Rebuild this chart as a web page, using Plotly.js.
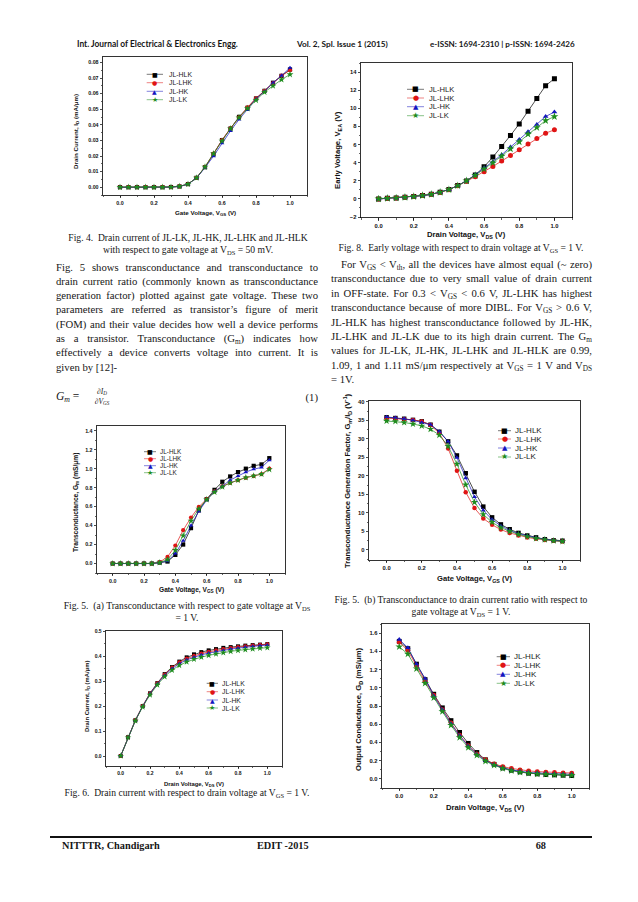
<!DOCTYPE html>
<html><head><meta charset="utf-8">
<script src="https://cdn.plot.ly/plotly-3.0.1.min.js"></script>
<style>
html,body{margin:0;padding:0;background:#fff;}
#page{position:relative;width:638px;height:902px;overflow:hidden;background:#fff;}
#plot{position:absolute;left:0;top:0;width:638px;height:902px;}
.t{position:absolute;white-space:nowrap;font-family:"Liberation Serif","Times New Roman",serif;color:#161616;}
.t sub{vertical-align:-0.28em;line-height:0;}
.t sup{vertical-align:0.4em;line-height:0;}
#rule{position:absolute;left:50px;top:836px;width:542px;height:2px;background:#111;}
</style></head><body>
<div id="page"><div id="plot"></div><div id="txt"></div><div id="rule"></div></div>
<script>
const W = 638, H = 902;

// ---------- DATA ----------
const vx = [0.00,0.05,0.10,0.15,0.20,0.25,0.30,0.35,0.40,0.45,0.50,0.55,0.60,0.65,0.70,0.75,0.80,0.85,0.90,0.95,1.00];
const seriesNames = ['JL-HLK','JL-LHK','JL-HK','JL-LK'];

// Fig. 4: Drain current vs gate voltage (VDS = 50 mV)
const f4_hlk = [0,0,0,0,0,0,0.0001,0.0005,0.0020,0.0060,0.0128,0.0212,0.0302,0.0376,0.0451,0.0509,0.0569,0.0618,0.0670,0.0714,0.0755];
const f4_lhk = [0,0,0,0,0,0,0.0001,0.0005,0.0020,0.0060,0.0130,0.0215,0.0302,0.0378,0.0448,0.0512,0.0570,0.0618,0.0668,0.0715,0.0750];
const f4_hk  = [0,0,0,0,0,0,0.0001,0.0005,0.0019,0.0059,0.0125,0.0199,0.0282,0.0361,0.0434,0.0496,0.0565,0.0615,0.0670,0.0715,0.0766];
const f4_lk  = [0,0,0,0,0,0,0.0001,0.0005,0.0020,0.0060,0.0130,0.0216,0.0297,0.0376,0.0447,0.0505,0.0558,0.0610,0.0650,0.0690,0.0723];

// Fig. 8: Early voltage vs drain voltage
const f8_hlk = [0.00,0.07,0.11,0.18,0.26,0.37,0.51,0.73,1.03,1.47,1.98,2.64,3.55,4.62,5.79,7.00,8.28,9.67,11.07,12.50,13.27];
const f8_lhk = [0.00,0.07,0.11,0.18,0.26,0.37,0.51,0.72,1.02,1.45,1.95,2.46,3.00,3.59,4.18,4.80,5.42,6.05,6.67,7.26,7.62];
const f8_hk  = [0.00,0.07,0.11,0.18,0.26,0.37,0.51,0.73,1.03,1.47,2.00,2.67,3.41,4.10,4.87,5.72,6.56,7.40,8.21,9.09,9.60];
const f8_lk  = [0.00,0.07,0.11,0.18,0.26,0.37,0.51,0.73,1.03,1.46,2.00,2.60,3.30,3.99,4.73,5.53,6.30,7.15,7.88,8.65,9.09];

// Fig. 5(a): Transconductance vs gate voltage
const f5a_hlk = [0,0,0,0,0,0,0.010,0.021,0.091,0.200,0.373,0.560,0.679,0.777,0.862,0.918,0.964,1.000,1.030,1.045,1.111];
const f5a_lhk = [0,0,0,0,0,0,0.014,0.070,0.190,0.352,0.485,0.598,0.679,0.760,0.816,0.851,0.879,0.904,0.922,0.943,1.000];
const f5a_hk  = [0,0,0,0,0,0,0.010,0.025,0.106,0.240,0.401,0.552,0.668,0.760,0.816,0.879,0.922,0.964,0.995,1.013,1.090];
const f5a_lk  = [0,0,0,0,0,0,0.010,0.042,0.140,0.295,0.450,0.577,0.675,0.753,0.809,0.851,0.879,0.907,0.925,0.943,0.992];

// Fig. 5(b): Gm/ID vs gate voltage
const f5b_hlk = [35.8,35.6,35.4,35.1,34.7,33.8,31.9,29.3,25.5,20.7,15.7,11.7,8.8,6.9,5.6,4.6,3.9,3.4,2.9,2.6,2.5];
const f5b_lhk = [35.6,35.5,35.3,35.1,34.7,33.7,31.5,27.4,21.4,15.6,11.3,8.5,6.8,5.5,4.6,3.9,3.4,3.0,2.7,2.5,2.3];
const f5b_hk  = [35.9,35.7,35.4,35.0,34.4,33.8,32.0,29.3,24.9,19.4,14.3,10.7,8.2,6.5,5.3,4.4,3.8,3.3,2.9,2.6,2.4];
const f5b_lk  = [34.8,34.7,34.4,34.0,33.5,32.6,31.0,28.0,23.2,17.6,12.9,9.6,7.5,6.0,5.0,4.2,3.6,3.1,2.8,2.5,2.3];

// Fig. 6: Drain current vs drain voltage (VGS = 1 V)
const f6_hlk = [0,0.075,0.143,0.200,0.251,0.292,0.328,0.356,0.378,0.395,0.407,0.416,0.423,0.428,0.433,0.436,0.439,0.442,0.444,0.446,0.448];
const f6_lhk = [0,0.075,0.143,0.200,0.250,0.291,0.326,0.354,0.375,0.390,0.401,0.410,0.417,0.423,0.428,0.432,0.436,0.439,0.442,0.445,0.447];
const f6_hk  = [0,0.075,0.142,0.199,0.249,0.289,0.323,0.350,0.370,0.385,0.396,0.405,0.412,0.418,0.423,0.428,0.432,0.436,0.439,0.442,0.444];
const f6_lk  = [0,0.074,0.141,0.197,0.245,0.285,0.318,0.344,0.363,0.377,0.388,0.396,0.403,0.409,0.414,0.419,0.423,0.426,0.429,0.432,0.434];

// Fig. 7: Output conductance vs drain voltage
const f7_hlk = [1.51,1.43,1.26,1.09,0.93,0.78,0.64,0.51,0.39,0.29,0.21,0.16,0.12,0.095,0.077,0.062,0.055,0.047,0.044,0.040,0.036];
const f7_lhk = [1.50,1.41,1.24,1.07,0.92,0.76,0.615,0.48,0.365,0.275,0.21,0.165,0.135,0.115,0.100,0.088,0.080,0.074,0.070,0.066,0.064];
const f7_hk  = [1.53,1.44,1.26,1.10,0.91,0.76,0.605,0.475,0.36,0.27,0.20,0.155,0.12,0.098,0.083,0.072,0.065,0.060,0.055,0.052,0.050];
const f7_lk  = [1.45,1.37,1.21,1.05,0.89,0.74,0.59,0.455,0.345,0.26,0.195,0.15,0.115,0.090,0.074,0.063,0.055,0.050,0.046,0.043,0.040];

// x tick labels
const xTickVals = [0.0,0.2,0.4,0.6,0.8,1.0];

// ---------- STYLE ----------
const colors = ['#000000','#e01414','#1414c0','#1e8c1e'];
const symbols = ['square','circle','triangle-up','star'];
const glyphs = ['\u25A0','\u25CF','\u25B2','\u2605'];

const gateT = '<b>Gate Voltage, V<sub>GS</sub> (V)</b>';
const drainT = '<b>Drain Voltage, V<sub>DS</sub> (V)</b>';

const figs = [
 {L:103,R:307,T:57,B:195, yr:[-0.005,0.0835], dy:0.01, yf:'.2f', data:[f4_hlk,f4_lhk,f4_hk,f4_lk], ms:4.2, tf:5.3,
  yt:'<b>Drain Current, I<sub>D</sub> (mA/\u03bcm)</b>', ytx:76, yty:132, xt:gateT, xty:212.5, tsz:6.2,
  lg:{x0:146.7,x1:163,tx:166.7,ys:[74.3,82.7,91.3,99.7],fs:6.9,gs:6}},
 {L:361,R:572,T:63,B:217.5, yr:[-2.05,15], dy:2, yf:'d', data:[f8_hlk,f8_lhk,f8_hk,f8_lk], ms:5, tf:5.8,
  yt:'<b>Early Voltage, V<sub>EA</sub> (V)</b>', ytx:338, yty:150, xt:drainT, xty:235, tsz:7.7,
  lg:{x0:407,x1:424,tx:426.7,ys:[89.3,98,106.7,115.7],fs:7.6,gs:7}},
 {L:97,R:285,T:426,B:573, yr:[-0.1,1.45], dy:0.2, yf:'.1f', data:[f5a_hlk,f5a_lhk,f5a_hk,f5a_lk], ms:4.2, tf:5.3,
  yt:'<b>Transconductance, G<sub>m</sub> (mS/\u03bcm)</b>', ytx:76, yty:503, xt:gateT, xty:590, tsz:6.6,
  lg:{x0:144,x1:156,tx:158.3,ys:[451.7,458.7,465.7,472.7],fs:6.4,gs:6}},
 {L:369,R:580,T:401,B:560, yr:[-2.7,40.2], dy:5, yf:'d', data:[f5b_hlk,f5b_lhk,f5b_hk,f5b_lk], ms:4.5, tf:5.8,
  yt:'<b>Transconductance Generation Factor, G<sub>m</sub>/I<sub>D</sub> (V<sup>-1</sup>)</b>', ytx:348, yty:481, xt:gateT, xty:579, tsz:7.6,
  lg:{x0:498,x1:511,tx:513,ys:[430.7,439,448,457],fs:8,gs:7}},
 {L:106,R:282,T:631,B:766, yr:[-0.04,0.5005], dy:0.1, yf:'.1f', data:[f6_hlk,f6_lhk,f6_hk,f6_lk], ms:4, tf:5,
  yt:'<b>Drain Current, I<sub>D</sub> (mA/\u03bcm)</b>', ytx:87, yty:697, xt:drainT, xty:784, tsz:5.9,
  lg:{x0:206.7,x1:218,tx:220,ys:[683.3,691.7,700,708],fs:6.8,gs:6}},
 {L:382,R:589,T:624,B:788, yr:[-0.1,1.7], dy:0.2, yf:'.1f', data:[f7_hlk,f7_lhk,f7_hk,f7_lk], ms:4.8, tf:5.8,
  yt:'<b>Output Conductance, G<sub>D</sub> (mS/\u03bcm)</b>', ytx:359, yty:709, xt:drainT, xty:808, tsz:7.7,
  lg:{x0:496.7,x1:510,tx:511.7,ys:[656.7,665.3,674.3,683.3],fs:8,gs:7}}
];

const px = v => v / W;
const py = v => 1 - v / H;

const traces = [], annotations = [], shapes = [];
const layout = {width:W, height:H, margin:{l:0,r:0,t:0,b:0}, paper_bgcolor:'rgba(0,0,0,0)', plot_bgcolor:'rgba(0,0,0,0)', showlegend:false};

figs.forEach((f, i) => {
  const sfx = i ? String(i + 1) : '';
  const tickfont = {family:'Liberation Sans, Arial, sans-serif', size:f.tf, color:'#111', weight:700};
  const common = {showline:true, linecolor:'#000', linewidth:0.8, mirror:true, ticks:'outside', ticklen:2.6, tickwidth:0.7, tickcolor:'#000',
    showgrid:false, zeroline:false, tickfont:tickfont, fixedrange:true};
  layout['xaxis' + sfx] = Object.assign({}, common, {domain:[px(f.L), px(f.R)], anchor:'y' + sfx, range:[-0.1, 1.1],
    tickmode:'array', tickvals:xTickVals, ticktext:xTickVals.map(v => v.toFixed(1)),
    minor:{ticks:'outside', ticklen:1.5, dtick:0.1, tick0:0, tickcolor:'#000', tickwidth:0.6}});
  layout['yaxis' + sfx] = Object.assign({}, common, {domain:[py(f.B), py(f.T)], anchor:'x' + sfx, range:f.yr,
    tick0:0, dtick:f.dy, tickformat:f.yf,
    minor:{ticks:'outside', ticklen:1.5, dtick:f.dy / 2, tick0:0, tickcolor:'#000', tickwidth:0.6}});
  f.data.forEach((arr, k) => {
    traces.push({x:vx, y:arr, xaxis:'x' + sfx, yaxis:'y' + sfx, mode:'lines+markers', name:seriesNames[k],
      line:{color:colors[k], width:0.7}, marker:{symbol:symbols[k], size:(k === 3 ? f.ms + 1 : f.ms), color:colors[k], line:{width:0}},
      hoverinfo:'skip'});
  });
  // axis titles
  annotations.push({xref:'paper', yref:'paper', x:px(f.ytx), y:py(f.yty), text:f.yt, textangle:-90, showarrow:false,
    xanchor:'center', yanchor:'middle', font:{family:'Liberation Sans, Arial, sans-serif', size:f.tsz, color:'#111'}});
  annotations.push({xref:'paper', yref:'paper', x:px((f.L + f.R) / 2), y:py(f.xty), text:f.xt, showarrow:false,
    xanchor:'center', yanchor:'middle', font:{family:'Liberation Sans, Arial, sans-serif', size:f.tsz, color:'#111'}});
  // legend
  const g = f.lg;
  seriesNames.forEach((nm, k) => {
    shapes.push({type:'line', xref:'paper', yref:'paper', x0:px(g.x0), x1:px(g.x1), y0:py(g.ys[k]), y1:py(g.ys[k]),
      line:{color:colors[k], width:0.7}, opacity:0.75});
    annotations.push({xref:'paper', yref:'paper', x:px((g.x0 + g.x1) / 2), y:py(g.ys[k]), text:glyphs[k], showarrow:false,
      xanchor:'center', yanchor:'middle', font:{family:'DejaVu Sans', size:(k === 3 ? g.gs + 1 : g.gs), color:colors[k]}});
    annotations.push({xref:'paper', yref:'paper', x:px(g.tx), y:py(g.ys[k]), text:nm, showarrow:false,
      xanchor:'left', yanchor:'middle', font:{family:'Liberation Sans, Arial, sans-serif', size:g.fs, color:'#1a1a1a'}});
  });
});
layout.annotations = annotations;
layout.shapes = shapes;

Plotly.newPlot('plot', traces, layout, {staticPlot:true, displayModeBar:false});

// ---------- PAGE TEXT ----------
const txt = document.getElementById('txt');
function put(html, o) {
  const d = document.createElement('div');
  d.className = 't';
  d.innerHTML = '<span>' + html + '</span>';
  let fs = o.size || 10.7;
  if (o.family) d.style.fontFamily = o.family;
  if (o.bold) d.style.fontWeight = '700';
  if (o.italic) d.style.fontStyle = 'italic';
  const setSize = s => {
    d.style.fontSize = s + 'px';
    d.querySelectorAll('sub,sup').forEach(e => { e.style.fontSize = (s * 0.68).toFixed(2) + 'px'; });
  };
  setSize(fs);
  txt.appendChild(d);
  const sp = d.firstChild;
  if (o.fit) {
    const w0 = sp.getBoundingClientRect().width;
    fs = fs * o.fit / w0;
    setSize(fs);
  }
  const lh = fs * 1.15;
  d.style.lineHeight = lh + 'px';
  d.style.top = (o.y - lh / 2) + 'px';
  const w = sp.getBoundingClientRect().width;
  if (o.align === 'center') d.style.left = (o.x - w / 2) + 'px';
  else if (o.align === 'right') d.style.left = (o.x - w) + 'px';
  else d.style.left = o.x + 'px';
  if (o.justify) {
    const n = (sp.textContent.match(/[ \u00a0]/g) || []).length;
    if (n > 0) d.style.wordSpacing = ((o.justify - w) / n) + 'px';
  }
}

// header
const hdr = {family:'Lato, "Open Sans", sans-serif', bold:true, size:8.5};
put('Int. Journal of Electrical &amp; Electronics Engg.', Object.assign({x:77, y:45, fit:161}, hdr));
put('Vol. 2, Spl. Issue 1 (2015)', Object.assign({x:297, y:45, fit:91}, hdr));
put('e-ISSN: 1694-2310 | p-ISSN: 1694-2426', Object.assign({x:430, y:45, fit:145}, hdr));

// captions
const cap = 9.6;
put('Fig. 4.&nbsp; Drain current of JL-LK, JL-HK, JL-LHK and JL-HLK', {x:188, y:238, size:cap, align:'center'});
put('with respect to gate voltage at V<sub>DS</sub> = 50 mV.', {x:188, y:249.5, size:cap, align:'center'});
put('Fig. 8.&nbsp; Early voltage with respect to drain voltage at V<sub>GS</sub> = 1 V.', {x:461, y:247.3, size:cap, align:'center'});
put('Fig. 5.&nbsp; (a) Transconductance with respect to gate voltage at V<sub>DS</sub>', {x:187, y:606, size:cap, align:'center'});
put('= 1 V.', {x:187, y:617.5, size:cap, align:'center'});
put('Fig. 5.&nbsp; (b) Transconductance to drain current ratio with respect to', {x:461, y:600, size:cap, align:'center'});
put('gate voltage at V<sub>DS</sub> = 1 V.', {x:461, y:611.5, size:cap, align:'center'});
put('Fig. 6.&nbsp; Drain current with respect to drain voltage at V<sub>GS</sub> = 1 V.', {x:187, y:793, size:cap, align:'center'});

// left paragraph
const leftLines = [
 'Fig. 5 shows transconductance and transconductance to',
 'drain current ratio (commonly known as transconductance',
 'generation factor) plotted against gate voltage. These two',
 'parameters are referred as transistor\u2019s figure of merit',
 '(FOM) and their value decides how well a device performs',
 'as a transistor. Transconductance (G<sub>m</sub>) indicates how',
 'effectively a device converts voltage into current. It is',
 'given by [12]-'
];
leftLines.forEach((s, i) => put(s, {x:56, y:266.7 + 14.3 * i, size:10.7, justify:(i < leftLines.length - 1 ? 262 : 0)}));

// equation
put('<i>G<sub>m</sub></i> =', {x:56, y:397, size:11.5});
put('<i>\u2202I<sub>D</sub></i>', {x:102, y:392, size:7.5, align:'center'});
put('<i>\u2202V<sub>GS</sub></i>', {x:102, y:402.5, size:7.5, align:'center'});
put('(1)', {x:318, y:397, size:10.7, align:'right'});

// right paragraph
const rightLines = [
 'For V<sub>GS</sub> &lt; V<sub>th</sub>, all the devices have almost equal (~ zero)',
 'transconductance due to very small value of drain current',
 'in OFF-state. For 0.3 &lt; V<sub>GS</sub> &lt; 0.6 V, JL-LHK has highest',
 'transconductance because of more DIBL. For V<sub>GS</sub> &gt; 0.6 V,',
 'JL-HLK has highest transconductance followed by JL-HK,',
 'JL-LHK and JL-LK due to its high drain current. The G<sub>m</sub>',
 'values for JL-LK, JL-HK, JL-LHK and JL-HLK are 0.99,',
 '1.09, 1 and 1.11 mS/\u03bcm respectively at V<sub>GS</sub> = 1 V and V<sub>DS</sub>',
 '= 1V.'
];
rightLines.forEach((s, i) => {
  const ind = i === 0 ? 10 : 0;
  put(s, {x:331 + ind, y:264.3 + 14.35 * i, size:10.7, justify:(i < rightLines.length - 1 ? 261 - ind : 0)});
});

// footer
const ft = {bold:true, size:10.3};
put('NITTTR, Chandigarh', Object.assign({x:62, y:846}, ft));
put('EDIT -2015', Object.assign({x:257, y:846}, ft));
put('68', Object.assign({x:546, y:846, align:'right'}, ft));
</script>
</body></html>
